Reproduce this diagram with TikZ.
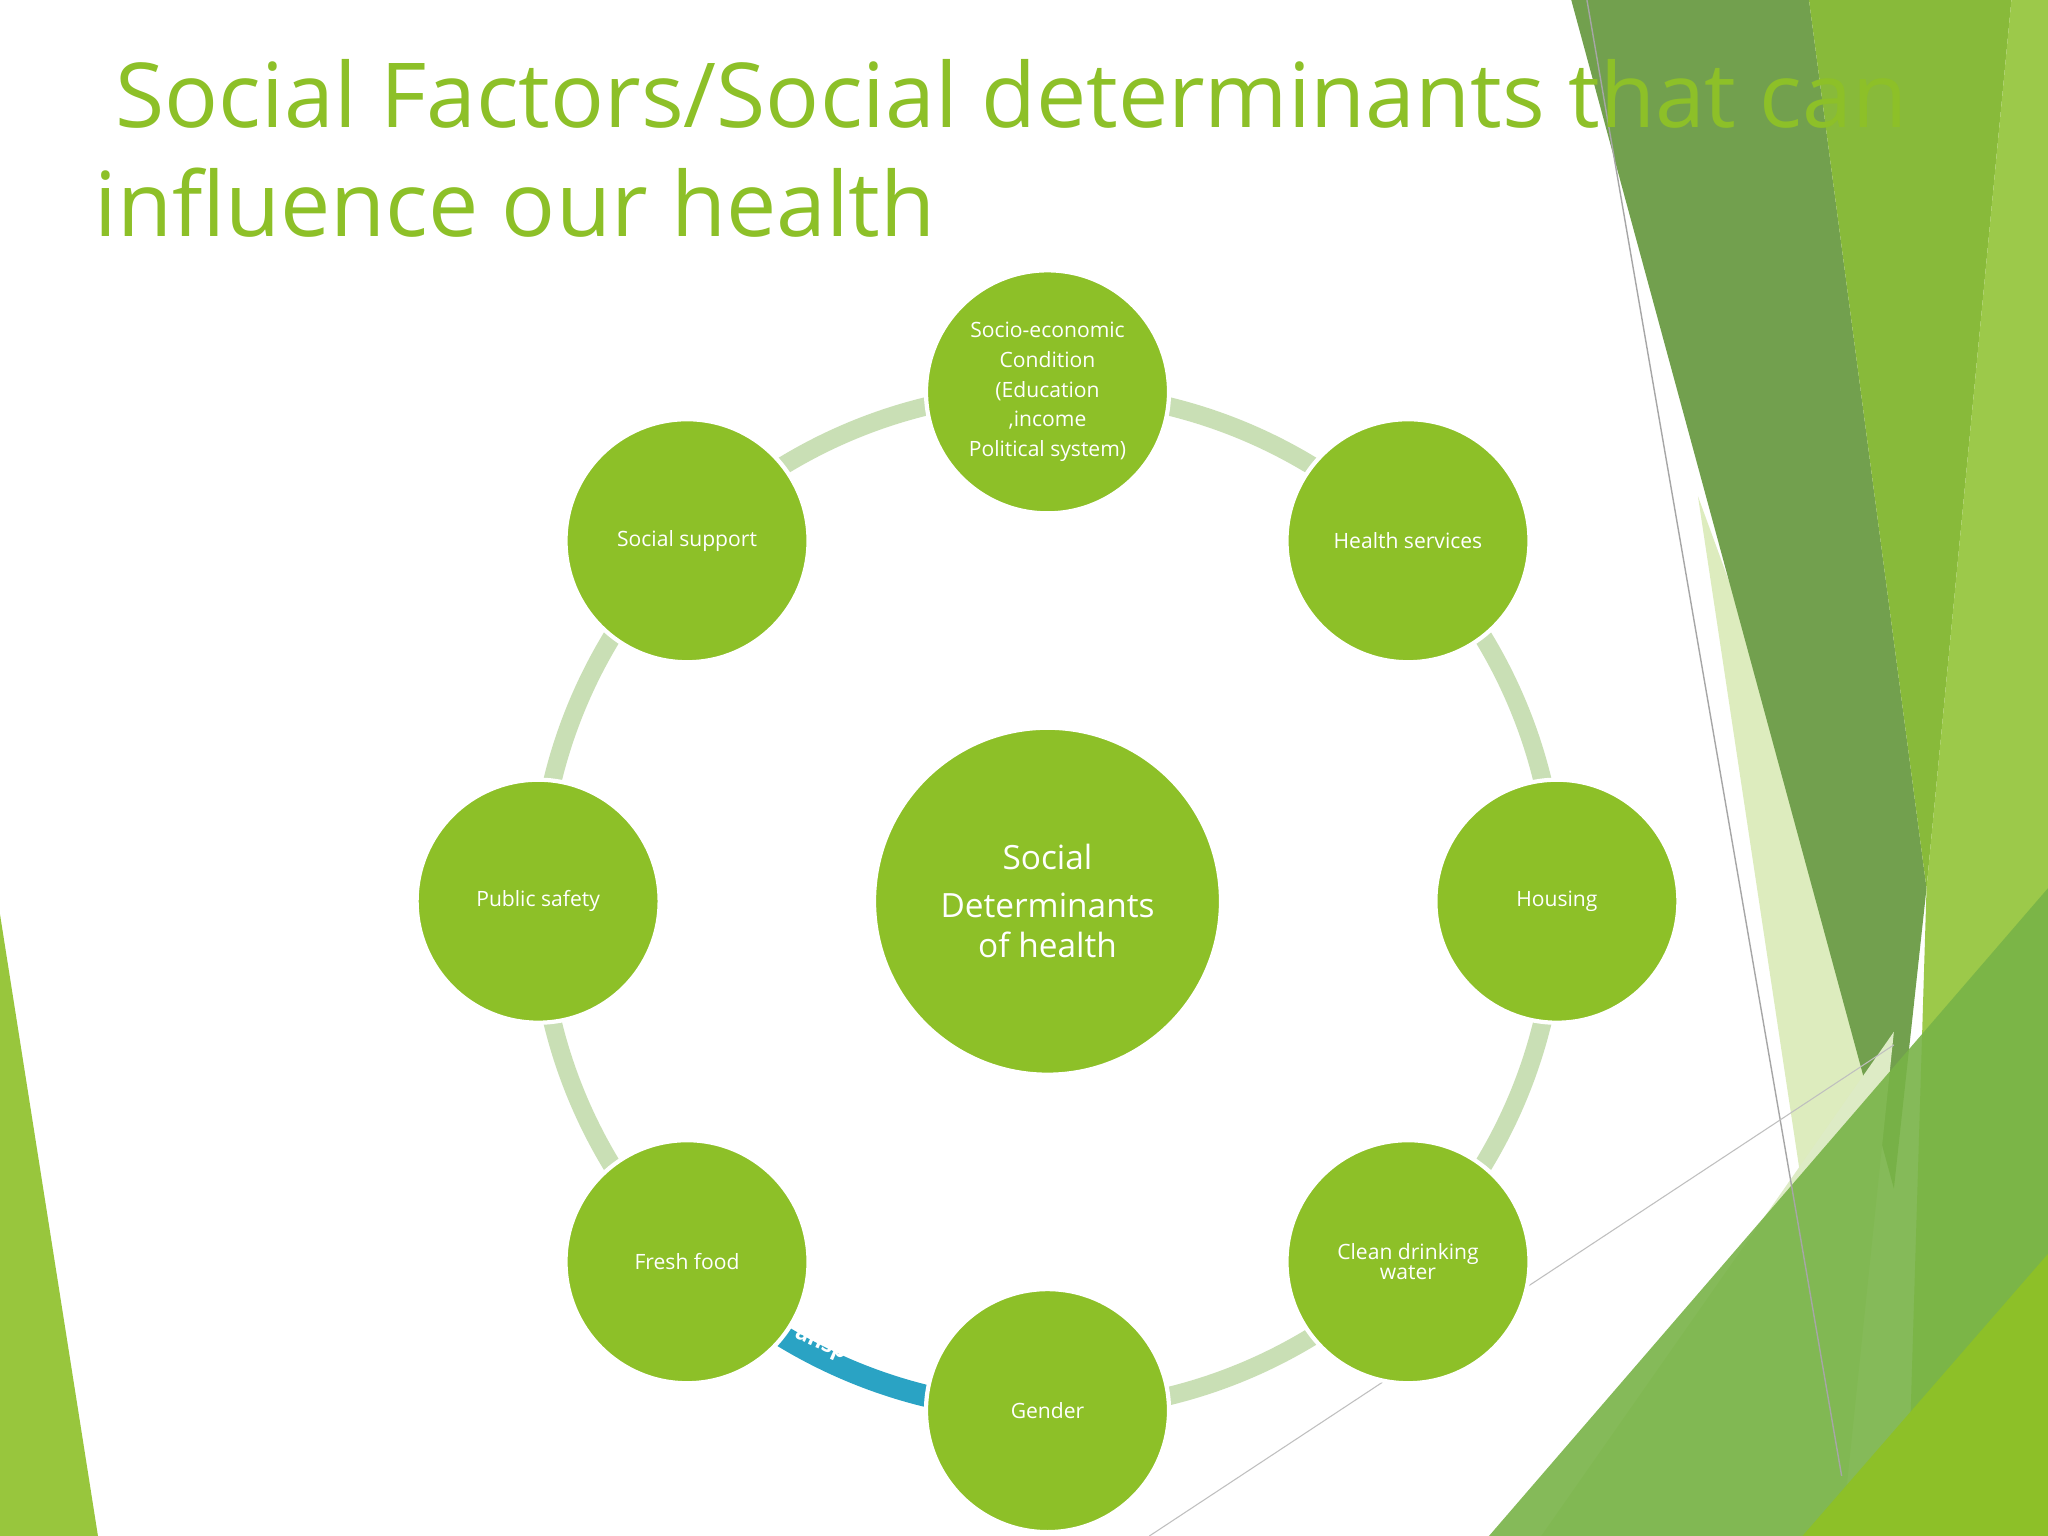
\documentclass[tikz,border=0pt]{standalone}
\usepackage{fontspec}
\setmainfont{Open Sans}
\definecolor{lg}{HTML}{8DC028}
\definecolor{ring}{HTML}{C9DFB5}
\definecolor{blu}{HTML}{2AA3C4}
\definecolor{dk}{HTML}{72A04E}
\definecolor{md}{HTML}{88BA3A}
\definecolor{br}{HTML}{9CC94A}
\definecolor{pale}{HTML}{DDEBC5}
\definecolor{mg}{HTML}{78B347}
\begin{document}
\begin{tikzpicture}[x=0.013061cm,y=-0.013061cm,
  sat/.style={circle,fill=lg,draw=white,line width=1.2pt,minimum size=2.43cm,inner sep=0pt,text=white,font=\fontsize{6}{8.5}\selectfont,align=center},
  hub/.style={circle,fill=lg,draw=white,line width=1.2pt,minimum size=3.47cm,inner sep=0pt,text=white,font=\fontsize{9.5}{11.5}\selectfont,align=center}]
\useasboundingbox (0,0) rectangle (1568,1176);
\fill[white] (0,0) rectangle (1568,1176);
% decorative shapes
\fill[lg!90!white] (0,700) -- (75,1176) -- (0,1176) -- cycle;
\fill[lg!30!white] (1300,380) -- (1420,1176) -- (1250,1176) -- (1450,790) -- cycle;
\fill[dk] (1203,0) -- (1385,0) -- (1475,680) -- (1450,910) -- cycle;
\fill[md] (1385,0) -- (1540,0) -- (1475,680) -- cycle;
\fill[br] (1540,0) -- (1568,0) -- (1568,1176) -- (1460,1176) -- (1475,680) -- cycle;
\fill[pale] (1180,1176) -- (1450,790) -- (1410,1176) -- cycle;
\fill[mg,opacity=0.9] (1140,1176) -- (1568,680) -- (1568,1176) -- cycle;
\fill[lg] (1380,1176) -- (1568,960) -- (1568,1176) -- cycle;
\draw[gray!70,line width=0.4pt] (1215,0) -- (1410,1130);
\draw[gray!50,line width=0.3pt] (880,1176) -- (1450,800);
% ring
\draw[ring,line width=0.183cm] (802,690) circle[radius=390];
\draw[blu,line width=0.22cm] ([shift={(802,690)}]135:390) arc[start angle=135,end angle=90,radius=390];
% nodes
\node[hub] (c) at (802,690) {Social\\[2pt]Determinants\\of health};
\node[sat] (n1) at (802,300) {Socio-economic\\Condition\\(Education\\,income\\Political system)};
\node[sat] (n2) at (1078,414) {Health services};
\node[sat] (n3) at (1192,690) {Housing};
\node[sat] (n4) at (1078,966) {Clean drinking\\[-3pt]water};
\node[sat] (n5) at (802,1080) {Gender};
\node[sat] (n6) at (526,966) {Fresh food};
\node[sat] (n7) at (412,690) {Public safety};
\node[sat] (n8) at (526,414) {Social support};
\node[text=white,rotate=-24,inner sep=0pt,font=\fontsize{6.5}{7}\selectfont\bfseries] (tr) at (628,1030) {ansp};
% title
\node[anchor=west,text=lg,font=\fontsize{25.5}{30}\selectfont,inner sep=0pt] (t1) at (88,72) {Social Factors/Social determinants that can};
\node[anchor=west,text=lg,font=\fontsize{25.5}{30}\selectfont,inner sep=0pt] (t2) at (72,155) {influence our health};
\end{tikzpicture}
\end{document}
